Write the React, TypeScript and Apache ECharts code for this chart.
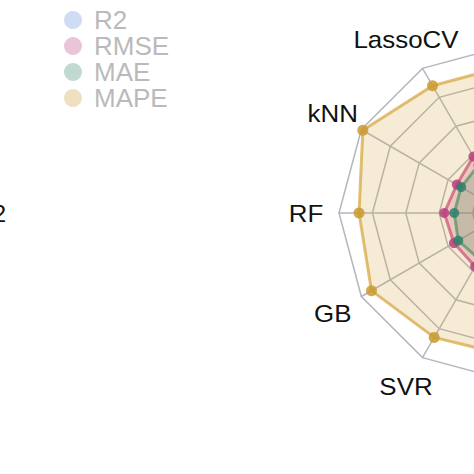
import React, { useEffect, useRef } from 'react';
import * as echarts from 'echarts';

// Radar indicators (models), counter-clockwise from the top
const indicators = ['LR', 'LassoCV', 'kNN', 'RF', 'GB', 'SVR', 'DT', 'ET', 'MLP', 'XGB', 'Ada', 'Ridge'];
const seriesNames = ['R2', 'RMSE', 'MAE', 'MAPE'];

// normalised metric values per model
const r2Values = [0.15, 0.15, 0.14, 0.15, 0.15, 0.14, 0.15, 0.14, 0.15, 0.14, 0.15, 0.14];
const rmseValues = [0.38, 0.39, 0.34, 0.37, 0.36, 0.37, 0.37, 0.36, 0.35, 0.37, 0.36, 0.38];
const maeValues = [0.32, 0.33, 0.31, 0.31, 0.33, 0.32, 0.31, 0.32, 0.31, 0.32, 0.31, 0.32];
const mapeValues = [0.88, 0.88, 0.99, 0.88, 0.93, 0.86, 0.85, 0.9, 0.87, 0.92, 0.89, 0.9];

const seriesColors = ['#739ee4', '#c8468a', '#3a8e76', '#d4a640'];
const lineColors = ['#86a8e6', '#cc5a94', '#4a9a84', '#dcb45c'];
const symbolColors = ['#5f8ad6', '#b84080', '#2f8068', '#c99a30'];

const CX = 506;
const CY = 213;
const RADIUS = 167;
const LABEL_R = 200;
const WIDTH = 474;

export default function App() {
  const ref = useRef<HTMLDivElement>(null);
  useEffect(() => {
    if (!ref.current) return;
    const chart = echarts.init(ref.current, undefined, { renderer: 'svg' });
    const valuesBySeries = [r2Values, rmseValues, maeValues, mapeValues];
    const n = indicators.length;

    const labels: any[] = [];
    indicators.forEach((name, i) => {
      const ang = ((90 + (360 * i) / n) * Math.PI) / 180;
      const x = CX + LABEL_R * Math.cos(ang);
      const y = CY - LABEL_R * Math.sin(ang);
      if (x < WIDTH - 10) {
        labels.push({
          type: 'text',
          x,
          y,
          scaleX: 1.08,
          style: {
            text: name,
            fill: '#111111',
            font: '24px "Liberation Sans", Arial, sans-serif',
            textAlign: 'center',
            textVerticalAlign: 'middle',
          },
        });
      }
    });

    chart.setOption({
      animation: false,
      backgroundColor: '#ffffff',
      legend: {
        orient: 'vertical',
        left: 59,
        top: 2,
        icon: 'circle',
        itemWidth: 32,
        itemHeight: 18,
        itemGap: 0,
        data: seriesNames,
        itemStyle: { opacity: 0.3 },
        textStyle: {
          color: '#bababa',
          fontSize: 26,
          fontFamily: '"Liberation Sans", Arial, sans-serif',
        },
      },
      radar: {
        center: [CX, CY],
        radius: RADIUS,
        startAngle: 90,
        splitNumber: 5,
        indicator: indicators.map((name) => ({ name, min: 0, max: 1 })),
        axisName: { show: false },
        axisLine: { lineStyle: { color: '#b4b7bf', width: 1.5 } },
        splitLine: { lineStyle: { color: '#b4b7bf', width: 1.5 } },
        splitArea: { show: false },
      },
      graphic: [
        ...labels,
        {
          type: 'text',
          x: 6,
          y: 213,
          style: {
            text: 'R2',
            fill: '#111111',
            font: '24px "Liberation Sans", Arial, sans-serif',
            textAlign: 'right',
            textVerticalAlign: 'middle',
          },
        },
      ],
      series: [
        {
          type: 'radar',
          symbol: 'circle',
          data: seriesNames.map((name, k) => ({
            name,
            value: valuesBySeries[k],
            symbolSize: k === 3 ? 11 : 10,
            itemStyle: { color: symbolColors[k], opacity: 0.85 },
            lineStyle: { color: lineColors[k], width: 3, opacity: 0.85 },
            areaStyle: { color: seriesColors[k], opacity: k === 3 ? 0.22 : 0.25 },
          })),
        },
      ],
    });
    return () => chart.dispose();
  }, []);
  return (
    <div
      ref={ref}
      style={{ position: 'fixed', left: 0, top: 0, width: 474, height: 474 }}
    />
  );
}
